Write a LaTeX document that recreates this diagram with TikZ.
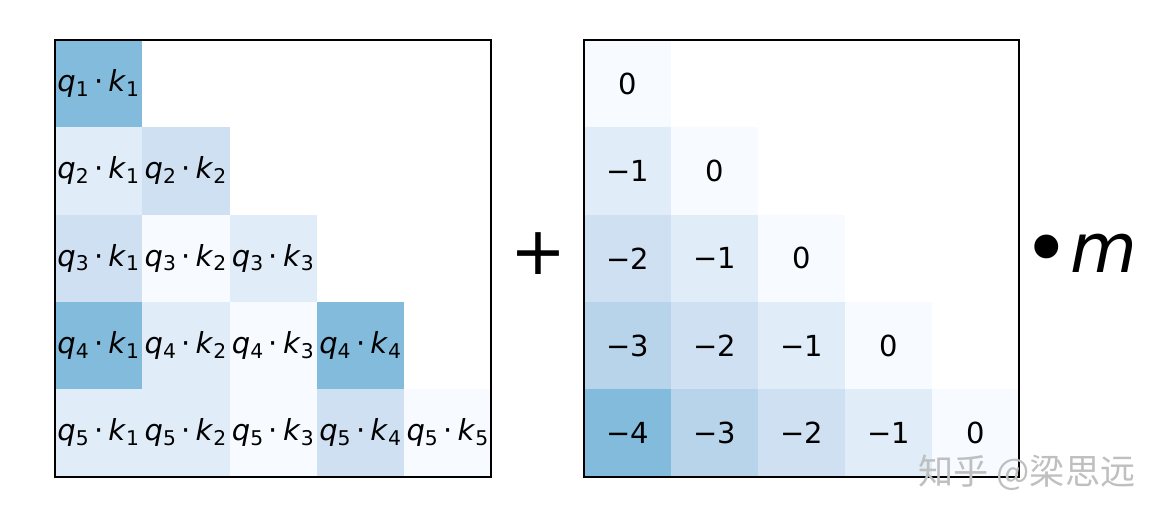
\documentclass[tikz,border=0pt]{standalone}
\usepackage{fontspec}
\setmainfont{DejaVu Sans}
\newfontfamily\cjk{Noto Sans CJK SC}
\usetikzlibrary{positioning}
\definecolor{shadeA}{RGB}{247,251,255}
\definecolor{shadeB}{RGB}{224,236,247}
\definecolor{shadeC}{RGB}{206,224,241}
\definecolor{shadeD}{RGB}{183,212,234}
\definecolor{shadeE}{RGB}{130,187,219}
\newcommand{\qdotk}[2]{\textit{q}\textsubscript{#1}\,\char"22C5\,\textit{k}\textsubscript{#2}}
\tikzset{
    entry/.style={inner sep=0pt, font=\fontsize{16.5}{20}\selectfont},
    frame/.style={draw=black, line width=1.3pt},
}

\begin{document}
\begin{tikzpicture}[x=0.02cm, y=-0.02cm]
        \useasboundingbox (0, 0) rectangle (1166, 522);
        \foreach \r/\c/\col in {1/1/shadeE, 2/1/shadeB, 2/2/shadeC, 3/1/shadeC, 3/2/shadeA, 3/3/shadeB, 4/1/shadeE, 4/2/shadeB, 4/3/shadeA, 4/4/shadeE, 5/1/shadeB, 5/2/shadeB, 5/3/shadeA, 5/4/shadeC, 5/5/shadeA} {
            \fill [\col] ({55+(\c-1)*87.3}, {40+(\r-1)*87.3}) rectangle ++(87.3, 87.3);
            \node [entry] (qk\r\c) at ({55+(\c-0.5)*87.3}, {40+(\r-0.5)*87.3}) {\qdotk{\r}{\c}};
        }
        \foreach \r/\c/\col/\val in {1/1/shadeA/0, 2/1/shadeB/\char"2212 1, 2/2/shadeA/0, 3/1/shadeC/\char"2212 2, 3/2/shadeB/\char"2212 1, 3/3/shadeA/0, 4/1/shadeD/\char"2212 3, 4/2/shadeC/\char"2212 2, 4/3/shadeB/\char"2212 1, 4/4/shadeA/0, 5/1/shadeE/\char"2212 4, 5/2/shadeD/\char"2212 3, 5/3/shadeC/\char"2212 2, 5/4/shadeB/\char"2212 1, 5/5/shadeA/0} {
            \fill [\col] ({584+(\c-1)*87.1}, {40+(\r-1)*87.3}) rectangle ++(87.1, 87.3);
            \node [entry] (bias\r\c) at ({584+(\c-0.5)*87.1}, {40+(\r-0.5)*87.3}) {\val};
        }
        \draw [frame] (55, 40) rectangle (491, 477);
        \draw [frame] (584, 40) rectangle (1019, 477);
        \node [inner sep=0pt, font=\fontsize{38}{40}\selectfont] (plus) at (538, 254) {+};
        \node [inner sep=0pt, font=\fontsize{39}{42}\selectfont] (slope) at (1080, 256) {\raisebox{-0.08em}{\scalebox{1.2}{•}}\textit{m}};
        \node [inner sep=0pt, text=black!25, font=\cjk\fontsize{20}{24}\selectfont] (mark) at (1027, 473) {知乎 @梁思远};
    \end{tikzpicture}
\end{document}
